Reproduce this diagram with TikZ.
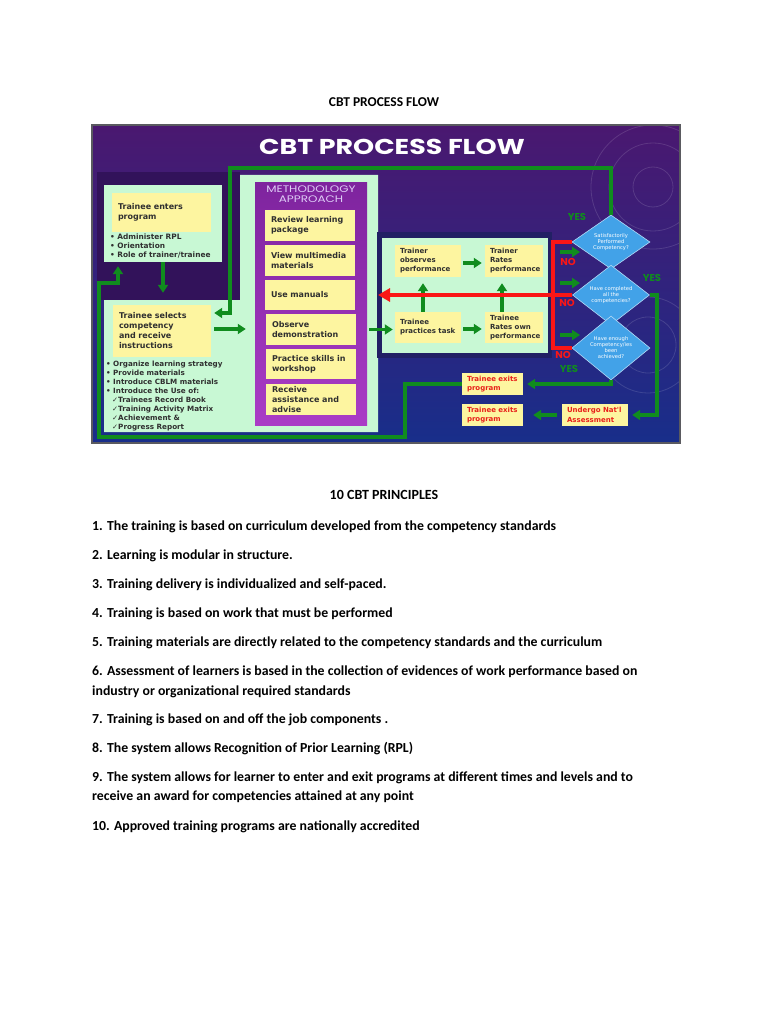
\documentclass[tikz,border=0pt]{standalone}
\usepackage{fontspec}
\setmainfont{Carlito}
\newfontfamily\boxfont{DejaVu Sans}
\newfontfamily\geofont{Poppins}
\usetikzlibrary{arrows.meta,shapes.geometric}
\definecolor{bgtop}{RGB}{74,24,112}
\definecolor{bgbot}{RGB}{24,46,138}
\definecolor{darkpanel}{RGB}{50,18,90}
\definecolor{lgreen}{RGB}{200,248,212}
\definecolor{ybox}{RGB}{253,245,160}
\definecolor{gline}{RGB}{16,140,30}
\definecolor{rline}{RGB}{250,22,22}
\definecolor{diablue}{RGB}{66,162,232}
\definecolor{purptop}{RGB}{126,36,158}
\definecolor{purpbot}{RGB}{170,60,198}
\definecolor{navyframe}{RGB}{34,32,100}
\definecolor{boxtext}{RGB}{48,48,48}
\definecolor{lavender}{RGB}{222,204,246}
\definecolor{exitred}{RGB}{232,32,26}
\definecolor{framegray}{RGB}{90,90,96}
\begin{document}
\begin{tikzpicture}[x=1pt,y=-1pt,
  yb/.style={fill=ybox, inner ysep=0pt, inner xsep=6pt, align=left,
    font=\boxfont\bfseries\fontsize{8}{10}\selectfont, text=boxtext},
  ybs/.style={yb, inner xsep=5pt, font=\boxfont\bfseries\fontsize{7}{9}\selectfont},
  ybr/.style={yb, inner xsep=5pt, text=exitred, font=\boxfont\bfseries\fontsize{7}{9.5}\selectfont},
  bul/.style={inner sep=0pt, align=left, font=\boxfont\bfseries\fontsize{7.4}{9.2}\selectfont, text=boxtext},
  garrow/.style={draw=gline, line width=3.2pt, -{Triangle[length=8pt,width=10pt]}},
  rarrow/.style={draw=rline, line width=3.4pt, -{Triangle[length=12pt,width=13pt]}},
  dia/.style={diamond, fill=diablue, draw=white!60!diablue, line width=0.6pt,
    minimum width=78pt, minimum height=54pt, inner sep=0pt, align=center,
    font=\boxfont\fontsize{5.2}{6}\selectfont, text=white},
  nolab/.style={font=\geofont\bfseries\fontsize{10}{10}\selectfont, text=rline, inner sep=0pt},
  yeslab/.style={font=\geofont\bfseries\fontsize{10}{10}\selectfont, text=gline, inner sep=0pt},
  item/.style={anchor=base west, inner sep=0pt, font=\bfseries\fontsize{13.8}{15}\selectfont},
  deco/.style={draw=white, opacity=0.13, line width=0.8pt}
]
\useasboundingbox (0,0) rectangle (768,1024);
\fill[white] (0,0) rectangle (768,1024);

% page title
\node[anchor=base, inner sep=0pt, font=\bfseries\fontsize{13.5}{15}\selectfont] (pagetitle) at (384,107) {CBT PROCESS FLOW};

% diagram background
\shade[top color=bgtop, bottom color=bgbot] (92,125) rectangle (680,443);
\begin{scope}
  \clip (92,125) rectangle (680,443);
  \draw[deco] (653,187) circle (20pt);
  \draw[deco] (653,187) circle (44pt);
  \draw[deco] (653,187) circle (62pt);
  \draw[deco] (648,345) circle (28pt);
  \draw[deco] (648,345) circle (48pt);
\end{scope}
\fill[darkpanel] (97,172) rectangle (240,300);

% light green panels
\fill[lgreen] (240,175) -- (378,175) -- (378,432) -- (104,432) -- (104,300) -- (240,300) -- cycle;
\fill[navyframe] (377,232) rectangle (552,358);
\fill[lgreen] (382,238) rectangle (548,353);
\coordinate (gpE) at (378,295);

% top-left panel
\node[fill=lgreen, minimum width=118pt, minimum height=77pt, inner sep=0pt] (enterpanel) at (163,223.5) {};
\node[yb, text width=87pt, minimum height=39pt] (enterbox) at (161.5,212.5) {Trainee enters\\program};
\node[bul, anchor=north west] (enterlist) at (110,233.5) {•\,\,Administer RPL\\•\,\,Orientation\\•\,\,Role of trainer/trainee};

% lower-left
\node[yb, text width=86pt, minimum height=52pt] (selectbox) at (162,331) {Trainee selects\\competency\\and receive\\instructions};
\node[bul, anchor=north west, font=\boxfont\bfseries\fontsize{7.2}{9}\selectfont] (selectlist) at (106,360.5) {•\,\,Organize learning strategy\\•\,\,Provide materials\\•\,\,Introduce CBLM materials\\•\,\,Introduce the Use of:\\\hspace*{6pt}✓Trainees Record Book\\\hspace*{6pt}✓Training Activity Matrix\\\hspace*{6pt}✓Achievement \&\\\hspace*{6pt}✓Progress Report};

% methodology panel
\shade[top color=purptop, bottom color=purpbot] (255,183) rectangle (367,425);
\node[minimum width=112pt, minimum height=242pt, inner sep=0pt] (methpanel) at (311,304) {};
\node[align=center, inner sep=0pt, text=lavender, font=\geofont\fontsize{9.5}{10}\selectfont] (methhead) at (311,194.5) {\scalebox{1.26}[1]{METHODOLOGY}\\\scalebox{1.26}[1]{APPROACH}};
\node[yb, text width=78pt, minimum height=31pt] (review) at (310,225.5) {Review learning\\package};
\node[yb, text width=78pt, minimum height=31pt] (view) at (310,260.5) {View multimedia\\materials};
\node[yb, text width=78pt, minimum height=30pt] (manuals) at (310,295) {Use manuals};
\node[yb, text width=78pt, minimum height=31pt] (observe) at (311,329.5) {Observe\\demonstration};
\node[yb, text width=78pt, minimum height=30pt] (practice) at (311,364) {Practice skills in\\workshop};
\node[yb, text width=78pt, minimum height=31pt] (receive) at (311,399.5) {Receive\\assistance and\\advise};

% right panel boxes
\node[ybs, text width=56pt, minimum height=32pt] (obs) at (428,261) {Trainer\\observes\\performance};
\node[ybs, text width=48pt, minimum height=32pt] (rates) at (514,261) {Trainer\\Rates\\performance};
\node[ybs, text width=56pt, minimum height=31pt] (practices) at (428,327.5) {Trainee\\practices task};
\node[ybs, text width=48pt, minimum height=31pt] (ratesown) at (514,327.5) {Trainee\\Rates own\\performance};

% diamonds
\node[dia] (d1) at (611,242) {Satisfactorily\\Performed\\Competency?};
\node[dia, minimum width=77pt, minimum height=52pt] (d2) at (611,295) {Have completed\\all the\\competencies?};
\node[dia] (d3) at (611,348) {Have enough\\Competency/ies\\been\\achieved?};

% exit boxes
\node[ybr, text width=51pt, minimum height=22pt] (exit1) at (492.5,384) {Trainee exits\\program};
\node[ybr, text width=51pt, minimum height=22pt] (exit2) at (492.5,415) {Trainee exits\\program};
\node[ybr, text width=56pt, minimum height=22pt] (undergo) at (595,415) {Undergo Nat'l\\Assessment};

% coordinates
\coordinate (topturn) at (230,168);
\coordinate (selturn) at (230,313);
\coordinate (lp1) at (405,437);
\coordinate (lp2) at (99,283);
\coordinate (lp3) at (118,283);
\coordinate (rc) at (657,295);
\coordinate (redtop) at (553,242);
\coordinate (redbot) at (553,348);
\coordinate (ga1) at (560,252);
\coordinate (ga2) at (560,283);
\coordinate (ga3) at (560,335);

% green connectors
\draw[garrow, line join=miter, shorten >=3pt] (d1.north) |- (topturn) -- (selturn) -- (selturn -| selectbox.east);
\draw[garrow, shorten >=12pt] (enterpanel.south) -- (enterpanel.south |- selectbox.north);
\draw[garrow, line join=miter, shorten >=4pt] (exit1.west) -| (lp1) -| (lp2) -- (lp3) -- (lp3 |- enterpanel.south);
\draw[garrow, shorten <=3pt, shorten >=9pt] ([yshift=2pt]selectbox.east) -- ([yshift=2pt]selectbox.east -| methpanel.west);
\draw[garrow, shorten <=13pt, shorten >=2pt] (observe.east) -- (observe.east -| practices.west);
\draw[garrow, shorten <=2pt, shorten >=3pt] ([yshift=-2pt]obs.east) -- ([yshift=-2pt]obs.east -| rates.west);
\draw[garrow, shorten <=2pt, shorten >=3pt] ([yshift=-1.5pt]practices.east) -- ([yshift=-1.5pt]practices.east -| ratesown.west);
\draw[garrow, shorten >=6pt] ([xshift=-5pt]practices.north) -- ([xshift=-5pt]practices.north |- obs.south);
\draw[garrow, shorten >=6pt] ([xshift=-12pt]ratesown.north) -- ([xshift=-12pt]ratesown.north |- rates.south);
\draw[garrow, line join=miter, shorten >=4pt] (d3.south) |- (exit1.east);
\draw[garrow, line join=miter, shorten >=4pt] (d2.east) -- (rc) |- (undergo.east);
\draw[garrow, shorten <=5pt, shorten >=10pt] (undergo.west) -- (exit2.east);
\draw[garrow] (ga1) -- ++(20,0);
\draw[garrow] (ga2) -- ++(20,0);
\draw[garrow] (ga3) -- ++(20,0);

% red connectors
\draw[draw=rline, line width=3.4pt, line join=miter] (d1.west) -- (redtop) -- (redbot) -- (d3.west);
\draw[rarrow] (d2.west) -- (gpE);

% labels
\node[yeslab] (yes1) at (577,217) {YES};
\node[yeslab] (yes2) at (652,278) {YES};
\node[yeslab] (yes3) at (569,369) {YES};
\node[nolab] (no1) at (568,262) {NO};
\node[nolab] (no2) at (567,303) {NO};
\node[nolab] (no3) at (563,355) {NO};

% diagram title
\node[text=white, inner sep=0pt, font=\geofont\bfseries\fontsize{21.5}{24}\selectfont] (dtitle) at (392,147) {\scalebox{1.25}[1]{CBT PROCESS FLOW}};

% frame
\draw[framegray, line width=1.6pt] (92,125) rectangle (680,443);

% principles
\node[anchor=base, inner sep=0pt, font=\bfseries\fontsize{14}{15}\selectfont] (ptitle) at (384,499) {10 CBT PRINCIPLES};
\node[item] (p1) at (92,530) {1. The training is based on curriculum developed from the competency standards};
\node[item] (p2) at (92,559) {2. Learning is modular in structure.};
\node[item] (p3) at (92,588) {3. Training delivery is individualized and self-paced.};
\node[item] (p4) at (92,617) {4. Training is based on work that must be performed};
\node[item] (p5) at (92,646) {5. Training materials are directly related to the competency standards and the curriculum};
\node[item] (p6a) at (92,675) {6. Assessment of learners is based in the collection of evidences of work performance based on};
\node[item] (p6b) at (92,695) {industry or organizational required standards};
\node[item] (p7) at (92,723) {7. Training is based on and off the job components .};
\node[item] (p8) at (92,752) {8. The system allows Recognition of Prior Learning (RPL)};
\node[item] (p9a) at (92,781) {9. The system allows for learner to enter and exit programs at different times and levels and to};
\node[item] (p9b) at (92,800) {receive an award for competencies attained at any point};
\node[item] (p10) at (92,830) {10. Approved training programs are nationally accredited};
\end{tikzpicture}
\end{document}
